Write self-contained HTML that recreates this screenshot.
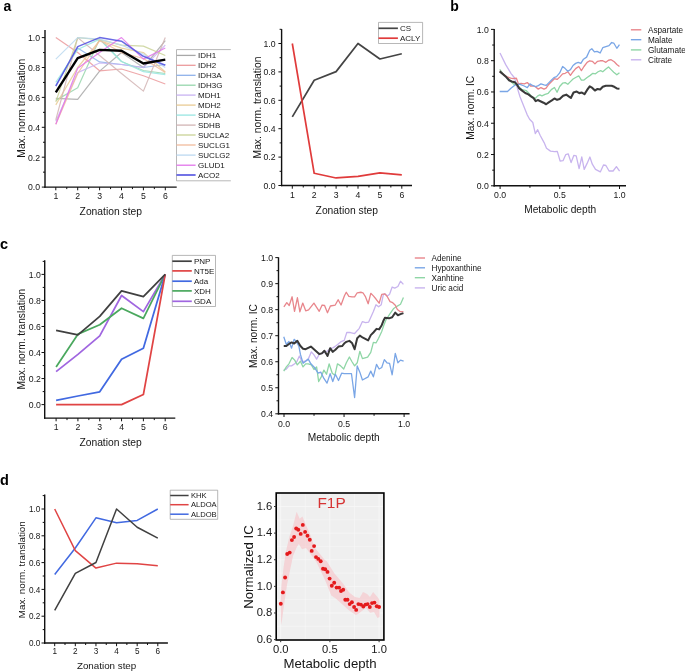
<!DOCTYPE html><html><head><meta charset="utf-8"><style>html,body{margin:0;padding:0;background:#fff;overflow:hidden}svg{display:block;filter:blur(0.35px)}</style></head><body>
<svg width="685" height="671" viewBox="0 0 685 671" font-family='"Liberation Sans", sans-serif'>
<rect width="685" height="671" fill="#fff"/>
<line x1="45" y1="30" x2="45" y2="187.8" stroke="#111" stroke-width="1.4"/>
<line x1="44.3" y1="187.1" x2="176.7" y2="187.1" stroke="#111" stroke-width="1.4"/>
<line x1="41.8" y1="187.1" x2="45" y2="187.1" stroke="#111" stroke-width="1.0"/>
<text x="0" y="0" font-size="8.7" text-anchor="end" fill="#161616" transform="translate(40 190.48) scale(1 1.08)">0.0</text>
<line x1="43" y1="172.15" x2="45" y2="172.15" stroke="#111" stroke-width="1.0"/>
<line x1="41.8" y1="157.2" x2="45" y2="157.2" stroke="#111" stroke-width="1.0"/>
<text x="0" y="0" font-size="8.7" text-anchor="end" fill="#161616" transform="translate(40 160.58) scale(1 1.08)">0.2</text>
<line x1="43" y1="142.25" x2="45" y2="142.25" stroke="#111" stroke-width="1.0"/>
<line x1="41.8" y1="127.3" x2="45" y2="127.3" stroke="#111" stroke-width="1.0"/>
<text x="0" y="0" font-size="8.7" text-anchor="end" fill="#161616" transform="translate(40 130.68) scale(1 1.08)">0.4</text>
<line x1="43" y1="112.35" x2="45" y2="112.35" stroke="#111" stroke-width="1.0"/>
<line x1="41.8" y1="97.4" x2="45" y2="97.4" stroke="#111" stroke-width="1.0"/>
<text x="0" y="0" font-size="8.7" text-anchor="end" fill="#161616" transform="translate(40 100.78) scale(1 1.08)">0.6</text>
<line x1="43" y1="82.45" x2="45" y2="82.45" stroke="#111" stroke-width="1.0"/>
<line x1="41.8" y1="67.5" x2="45" y2="67.5" stroke="#111" stroke-width="1.0"/>
<text x="0" y="0" font-size="8.7" text-anchor="end" fill="#161616" transform="translate(40 70.88) scale(1 1.08)">0.8</text>
<line x1="43" y1="52.55" x2="45" y2="52.55" stroke="#111" stroke-width="1.0"/>
<line x1="41.8" y1="37.6" x2="45" y2="37.6" stroke="#111" stroke-width="1.0"/>
<text x="0" y="0" font-size="8.7" text-anchor="end" fill="#161616" transform="translate(40 40.98) scale(1 1.08)">1.0</text>
<line x1="55.8" y1="187.1" x2="55.8" y2="190.3" stroke="#111" stroke-width="1.0"/>
<text x="0" y="0" font-size="8.7" text-anchor="middle" fill="#161616" transform="translate(55.8 198.6) scale(1 1.08)">1</text>
<line x1="77.7" y1="187.1" x2="77.7" y2="190.3" stroke="#111" stroke-width="1.0"/>
<text x="0" y="0" font-size="8.7" text-anchor="middle" fill="#161616" transform="translate(77.7 198.6) scale(1 1.08)">2</text>
<line x1="99.6" y1="187.1" x2="99.6" y2="190.3" stroke="#111" stroke-width="1.0"/>
<text x="0" y="0" font-size="8.7" text-anchor="middle" fill="#161616" transform="translate(99.6 198.6) scale(1 1.08)">3</text>
<line x1="121.5" y1="187.1" x2="121.5" y2="190.3" stroke="#111" stroke-width="1.0"/>
<text x="0" y="0" font-size="8.7" text-anchor="middle" fill="#161616" transform="translate(121.5 198.6) scale(1 1.08)">4</text>
<line x1="143.4" y1="187.1" x2="143.4" y2="190.3" stroke="#111" stroke-width="1.0"/>
<text x="0" y="0" font-size="8.7" text-anchor="middle" fill="#161616" transform="translate(143.4 198.6) scale(1 1.08)">5</text>
<line x1="165.3" y1="187.1" x2="165.3" y2="190.3" stroke="#111" stroke-width="1.0"/>
<text x="0" y="0" font-size="8.7" text-anchor="middle" fill="#161616" transform="translate(165.3 198.6) scale(1 1.08)">6</text>
<line x1="66.75" y1="187.1" x2="66.75" y2="189.1" stroke="#111" stroke-width="1.0"/>
<line x1="88.65" y1="187.1" x2="88.65" y2="189.1" stroke="#111" stroke-width="1.0"/>
<line x1="110.55" y1="187.1" x2="110.55" y2="189.1" stroke="#111" stroke-width="1.0"/>
<line x1="132.45" y1="187.1" x2="132.45" y2="189.1" stroke="#111" stroke-width="1.0"/>
<line x1="154.35" y1="187.1" x2="154.35" y2="189.1" stroke="#111" stroke-width="1.0"/>
<text x="3.6" y="11" font-size="14" text-anchor="start" fill="#000" font-weight="bold">a</text>
<text x="25.2" y="108.2" font-size="10.3" text-anchor="middle" fill="#161616" transform="rotate(-90 25.2 108.2)">Max. norm translation</text>
<text x="110.8" y="214.6" font-size="10.3" text-anchor="middle" fill="#161616">Zonation step</text>
<polyline points="55.8,98.3 77.7,99.34 99.6,71.09 121.5,52.55 143.4,67.5 165.3,40.59" fill="none" stroke="#a8a8a8" stroke-width="1.2" stroke-linejoin="round" stroke-opacity="0.85"/>
<polyline points="55.8,37.6 77.7,52.55 99.6,70.79 121.5,68.99 143.4,75.72 165.3,83.95" fill="none" stroke="#eb9a9c" stroke-width="1.2" stroke-linejoin="round" stroke-opacity="0.85"/>
<polyline points="55.8,85.44 77.7,48.06 99.6,61.97 121.5,64.51 143.4,67.5 165.3,64.51" fill="none" stroke="#8fb2ea" stroke-width="1.2" stroke-linejoin="round" stroke-opacity="0.85"/>
<polyline points="55.8,100.39 77.7,87.83 99.6,39.09 121.5,61.52 143.4,70.49 165.3,73.48" fill="none" stroke="#97d6ad" stroke-width="1.2" stroke-linejoin="round" stroke-opacity="0.85"/>
<polyline points="55.8,121.32 77.7,72.58 99.6,63.02 121.5,64.51 143.4,67.5 165.3,45.07" fill="none" stroke="#c9b3f2" stroke-width="1.2" stroke-linejoin="round" stroke-opacity="0.85"/>
<polyline points="55.8,104.87 77.7,67.5 99.6,40.59 121.5,48.06 143.4,52.55 165.3,71.98" fill="none" stroke="#e9cb94" stroke-width="1.2" stroke-linejoin="round" stroke-opacity="0.85"/>
<polyline points="55.8,82.45 77.7,49.56 99.6,39.09 121.5,61.52 143.4,71.69 165.3,74.53" fill="none" stroke="#98e6e2" stroke-width="1.2" stroke-linejoin="round" stroke-opacity="0.85"/>
<polyline points="55.8,119.82 77.7,37.6 99.6,55.54 121.5,73.48 143.4,91.12 165.3,37.6" fill="none" stroke="#d2b4b4" stroke-width="1.2" stroke-linejoin="round" stroke-opacity="0.85"/>
<polyline points="55.8,101.89 77.7,37.6 99.6,39.69 121.5,45.07 143.4,46.12 165.3,55.54" fill="none" stroke="#c9d296" stroke-width="1.2" stroke-linejoin="round" stroke-opacity="0.85"/>
<polyline points="55.8,124.31 77.7,73.48 99.6,40.59 121.5,52.55 143.4,58.53 165.3,72.58" fill="none" stroke="#f1bb9c" stroke-width="1.2" stroke-linejoin="round" stroke-opacity="0.85"/>
<polyline points="55.8,59.13 77.7,37.6 99.6,39.09 121.5,45.07 143.4,54.04 165.3,67.5" fill="none" stroke="#bcd9f0" stroke-width="1.2" stroke-linejoin="round" stroke-opacity="0.85"/>
<polyline points="55.8,124.31 77.7,68.25 99.6,52.55 121.5,37.6 143.4,59.13 165.3,48.06" fill="none" stroke="#e274ea" stroke-width="1.2" stroke-linejoin="round" stroke-opacity="0.85"/>
<polyline points="55.8,86.19 77.7,46.57 99.6,37.6 121.5,41.19 143.4,56.29 165.3,65.26" fill="none" stroke="#5050e0" stroke-width="1.5" stroke-linejoin="round" stroke-opacity="0.85"/>
<polyline points="55.8,92.32 77.7,58.08 99.6,49.86 121.5,50.76 143.4,63.46 165.3,59.58" fill="none" stroke="#000" stroke-width="2.4" stroke-linejoin="round"/>
<line x1="176.5" y1="49.6" x2="176.5" y2="180.8" stroke="#9a9a9a" stroke-width="0.7"/>
<line x1="176.5" y1="49.6" x2="230.8" y2="49.6" stroke="#9a9a9a" stroke-width="0.7"/>
<line x1="176.5" y1="180.8" x2="230.8" y2="180.8" stroke="#9a9a9a" stroke-width="0.7"/>
<line x1="176.5" y1="55.4" x2="195.6" y2="55.4" stroke="#a8a8a8" stroke-width="1.3"/>
<text x="198" y="58.3" font-size="8" text-anchor="start" fill="#161616">IDH1</text>
<line x1="176.5" y1="65.3" x2="195.6" y2="65.3" stroke="#eb9a9c" stroke-width="1.3"/>
<text x="198" y="68.2" font-size="8" text-anchor="start" fill="#161616">IDH2</text>
<line x1="176.5" y1="75.3" x2="195.6" y2="75.3" stroke="#8fb2ea" stroke-width="1.3"/>
<text x="198" y="78.2" font-size="8" text-anchor="start" fill="#161616">IDH3A</text>
<line x1="176.5" y1="85.2" x2="195.6" y2="85.2" stroke="#97d6ad" stroke-width="1.3"/>
<text x="198" y="88.1" font-size="8" text-anchor="start" fill="#161616">IDH3G</text>
<line x1="176.5" y1="95.1" x2="195.6" y2="95.1" stroke="#c9b3f2" stroke-width="1.3"/>
<text x="198" y="98" font-size="8" text-anchor="start" fill="#161616">MDH1</text>
<line x1="176.5" y1="105.1" x2="195.6" y2="105.1" stroke="#e9cb94" stroke-width="1.3"/>
<text x="198" y="108" font-size="8" text-anchor="start" fill="#161616">MDH2</text>
<line x1="176.5" y1="115.1" x2="195.6" y2="115.1" stroke="#98e6e2" stroke-width="1.3"/>
<text x="198" y="118" font-size="8" text-anchor="start" fill="#161616">SDHA</text>
<line x1="176.5" y1="125.1" x2="195.6" y2="125.1" stroke="#d2b4b4" stroke-width="1.3"/>
<text x="198" y="128" font-size="8" text-anchor="start" fill="#161616">SDHB</text>
<line x1="176.5" y1="135" x2="195.6" y2="135" stroke="#c9d296" stroke-width="1.3"/>
<text x="198" y="137.9" font-size="8" text-anchor="start" fill="#161616">SUCLA2</text>
<line x1="176.5" y1="145" x2="195.6" y2="145" stroke="#f1bb9c" stroke-width="1.3"/>
<text x="198" y="147.9" font-size="8" text-anchor="start" fill="#161616">SUCLG1</text>
<line x1="176.5" y1="155.1" x2="195.6" y2="155.1" stroke="#bcd9f0" stroke-width="1.3"/>
<text x="198" y="158" font-size="8" text-anchor="start" fill="#161616">SUCLG2</text>
<line x1="176.5" y1="165.2" x2="195.6" y2="165.2" stroke="#e274ea" stroke-width="1.3"/>
<text x="198" y="168.1" font-size="8" text-anchor="start" fill="#161616">GLUD1</text>
<line x1="176.5" y1="175" x2="195.6" y2="175" stroke="#5050e0" stroke-width="1.6"/>
<text x="198" y="177.9" font-size="8" text-anchor="start" fill="#161616">ACO2</text>
<line x1="281.6" y1="29.1" x2="281.6" y2="186.2" stroke="#111" stroke-width="1.4"/>
<line x1="280.9" y1="185.5" x2="412" y2="185.5" stroke="#111" stroke-width="1.4"/>
<line x1="278.4" y1="185.5" x2="281.6" y2="185.5" stroke="#111" stroke-width="1.0"/>
<text x="0" y="0" font-size="8.7" text-anchor="end" fill="#161616" transform="translate(275.6 188.88) scale(1 1.08)">0.0</text>
<line x1="279.6" y1="171.3" x2="281.6" y2="171.3" stroke="#111" stroke-width="1.0"/>
<line x1="278.4" y1="157.1" x2="281.6" y2="157.1" stroke="#111" stroke-width="1.0"/>
<text x="0" y="0" font-size="8.7" text-anchor="end" fill="#161616" transform="translate(275.6 160.48) scale(1 1.08)">0.2</text>
<line x1="279.6" y1="142.9" x2="281.6" y2="142.9" stroke="#111" stroke-width="1.0"/>
<line x1="278.4" y1="128.7" x2="281.6" y2="128.7" stroke="#111" stroke-width="1.0"/>
<text x="0" y="0" font-size="8.7" text-anchor="end" fill="#161616" transform="translate(275.6 132.08) scale(1 1.08)">0.4</text>
<line x1="279.6" y1="114.5" x2="281.6" y2="114.5" stroke="#111" stroke-width="1.0"/>
<line x1="278.4" y1="100.3" x2="281.6" y2="100.3" stroke="#111" stroke-width="1.0"/>
<text x="0" y="0" font-size="8.7" text-anchor="end" fill="#161616" transform="translate(275.6 103.68) scale(1 1.08)">0.6</text>
<line x1="279.6" y1="86.1" x2="281.6" y2="86.1" stroke="#111" stroke-width="1.0"/>
<line x1="278.4" y1="71.9" x2="281.6" y2="71.9" stroke="#111" stroke-width="1.0"/>
<text x="0" y="0" font-size="8.7" text-anchor="end" fill="#161616" transform="translate(275.6 75.28) scale(1 1.08)">0.8</text>
<line x1="279.6" y1="57.7" x2="281.6" y2="57.7" stroke="#111" stroke-width="1.0"/>
<line x1="278.4" y1="43.5" x2="281.6" y2="43.5" stroke="#111" stroke-width="1.0"/>
<text x="0" y="0" font-size="8.7" text-anchor="end" fill="#161616" transform="translate(275.6 46.88) scale(1 1.08)">1.0</text>
<line x1="279.6" y1="29.3" x2="281.6" y2="29.3" stroke="#111" stroke-width="1.0"/>
<line x1="292.3" y1="185.5" x2="292.3" y2="188.7" stroke="#111" stroke-width="1.0"/>
<text x="0" y="0" font-size="8.7" text-anchor="middle" fill="#161616" transform="translate(292.3 197.8) scale(1 1.08)">1</text>
<line x1="314.2" y1="185.5" x2="314.2" y2="188.7" stroke="#111" stroke-width="1.0"/>
<text x="0" y="0" font-size="8.7" text-anchor="middle" fill="#161616" transform="translate(314.2 197.8) scale(1 1.08)">2</text>
<line x1="336.1" y1="185.5" x2="336.1" y2="188.7" stroke="#111" stroke-width="1.0"/>
<text x="0" y="0" font-size="8.7" text-anchor="middle" fill="#161616" transform="translate(336.1 197.8) scale(1 1.08)">3</text>
<line x1="358" y1="185.5" x2="358" y2="188.7" stroke="#111" stroke-width="1.0"/>
<text x="0" y="0" font-size="8.7" text-anchor="middle" fill="#161616" transform="translate(358 197.8) scale(1 1.08)">4</text>
<line x1="379.9" y1="185.5" x2="379.9" y2="188.7" stroke="#111" stroke-width="1.0"/>
<text x="0" y="0" font-size="8.7" text-anchor="middle" fill="#161616" transform="translate(379.9 197.8) scale(1 1.08)">5</text>
<line x1="401.8" y1="185.5" x2="401.8" y2="188.7" stroke="#111" stroke-width="1.0"/>
<text x="0" y="0" font-size="8.7" text-anchor="middle" fill="#161616" transform="translate(401.8 197.8) scale(1 1.08)">6</text>
<line x1="303.25" y1="185.5" x2="303.25" y2="187.5" stroke="#111" stroke-width="1.0"/>
<line x1="325.15" y1="185.5" x2="325.15" y2="187.5" stroke="#111" stroke-width="1.0"/>
<line x1="347.05" y1="185.5" x2="347.05" y2="187.5" stroke="#111" stroke-width="1.0"/>
<line x1="368.95" y1="185.5" x2="368.95" y2="187.5" stroke="#111" stroke-width="1.0"/>
<line x1="390.85" y1="185.5" x2="390.85" y2="187.5" stroke="#111" stroke-width="1.0"/>
<text x="261.3" y="107.5" font-size="10.3" text-anchor="middle" fill="#161616" transform="rotate(-90 261.3 107.5)">Max. norm. translation</text>
<text x="346.8" y="214.1" font-size="10.3" text-anchor="middle" fill="#161616">Zonation step</text>
<polyline points="292.3,116.91 314.2,80.28 336.1,71.62 358,43.5 379.9,58.98 401.8,53.72" fill="none" stroke="#444" stroke-width="1.7" stroke-linejoin="round"/>
<polyline points="292.3,43.5 314.2,173.29 336.1,177.97 358,176.41 379.9,172.86 401.8,174.85" fill="none" stroke="#e03b3b" stroke-width="1.7" stroke-linejoin="round"/>
<line x1="378.5" y1="22.4" x2="378.5" y2="43.5" stroke="#9a9a9a" stroke-width="0.7"/>
<line x1="378.5" y1="22.4" x2="422.6" y2="22.4" stroke="#9a9a9a" stroke-width="0.7"/>
<line x1="378.5" y1="43.5" x2="422.6" y2="43.5" stroke="#9a9a9a" stroke-width="0.7"/>
<line x1="422.6" y1="22.4" x2="422.6" y2="43.5" stroke="#9a9a9a" stroke-width="0.7"/>
<line x1="378.5" y1="28.3" x2="397.9" y2="28.3" stroke="#444" stroke-width="1.7"/>
<text x="400" y="31.2" font-size="8" text-anchor="start" fill="#222">CS</text>
<line x1="378.5" y1="38.2" x2="397.9" y2="38.2" stroke="#e03b3b" stroke-width="1.7"/>
<text x="400" y="41.1" font-size="8" text-anchor="start" fill="#222">ACLY</text>
<line x1="494.2" y1="29.1" x2="494.2" y2="186.5" stroke="#111" stroke-width="1.4"/>
<line x1="493.5" y1="185.8" x2="626" y2="185.8" stroke="#111" stroke-width="1.4"/>
<line x1="491" y1="185.8" x2="494.2" y2="185.8" stroke="#111" stroke-width="1.0"/>
<text x="0" y="0" font-size="8.7" text-anchor="end" fill="#161616" transform="translate(488.8 189.18) scale(1 1.08)">0.0</text>
<line x1="492.2" y1="170.16" x2="494.2" y2="170.16" stroke="#111" stroke-width="1.0"/>
<line x1="491" y1="154.52" x2="494.2" y2="154.52" stroke="#111" stroke-width="1.0"/>
<text x="0" y="0" font-size="8.7" text-anchor="end" fill="#161616" transform="translate(488.8 157.9) scale(1 1.08)">0.2</text>
<line x1="492.2" y1="138.88" x2="494.2" y2="138.88" stroke="#111" stroke-width="1.0"/>
<line x1="491" y1="123.24" x2="494.2" y2="123.24" stroke="#111" stroke-width="1.0"/>
<text x="0" y="0" font-size="8.7" text-anchor="end" fill="#161616" transform="translate(488.8 126.62) scale(1 1.08)">0.4</text>
<line x1="492.2" y1="107.6" x2="494.2" y2="107.6" stroke="#111" stroke-width="1.0"/>
<line x1="491" y1="91.96" x2="494.2" y2="91.96" stroke="#111" stroke-width="1.0"/>
<text x="0" y="0" font-size="8.7" text-anchor="end" fill="#161616" transform="translate(488.8 95.34) scale(1 1.08)">0.6</text>
<line x1="492.2" y1="76.32" x2="494.2" y2="76.32" stroke="#111" stroke-width="1.0"/>
<line x1="491" y1="60.68" x2="494.2" y2="60.68" stroke="#111" stroke-width="1.0"/>
<text x="0" y="0" font-size="8.7" text-anchor="end" fill="#161616" transform="translate(488.8 64.06) scale(1 1.08)">0.8</text>
<line x1="492.2" y1="45.04" x2="494.2" y2="45.04" stroke="#111" stroke-width="1.0"/>
<line x1="491" y1="29.4" x2="494.2" y2="29.4" stroke="#111" stroke-width="1.0"/>
<text x="0" y="0" font-size="8.7" text-anchor="end" fill="#161616" transform="translate(488.8 32.78) scale(1 1.08)">1.0</text>
<line x1="500.1" y1="185.8" x2="500.1" y2="189" stroke="#111" stroke-width="1.0"/>
<text x="0" y="0" font-size="8.7" text-anchor="middle" fill="#161616" transform="translate(500.1 197.6) scale(1 1.08)">0.0</text>
<line x1="559.8" y1="185.8" x2="559.8" y2="189" stroke="#111" stroke-width="1.0"/>
<text x="0" y="0" font-size="8.7" text-anchor="middle" fill="#161616" transform="translate(559.8 197.6) scale(1 1.08)">0.5</text>
<line x1="619.5" y1="185.8" x2="619.5" y2="189" stroke="#111" stroke-width="1.0"/>
<text x="0" y="0" font-size="8.7" text-anchor="middle" fill="#161616" transform="translate(619.5 197.6) scale(1 1.08)">1.0</text>
<line x1="529.95" y1="185.8" x2="529.95" y2="187.8" stroke="#111" stroke-width="1.0"/>
<line x1="589.65" y1="185.8" x2="589.65" y2="187.8" stroke="#111" stroke-width="1.0"/>
<text x="450.3" y="10.6" font-size="14" text-anchor="start" fill="#000" font-weight="bold">b</text>
<text x="474" y="107.8" font-size="10.2" text-anchor="middle" fill="#161616" transform="rotate(-90 474 107.8)">Max. norm. IC</text>
<text x="560.2" y="213.3" font-size="10.2" text-anchor="middle" fill="#161616">Metabolic depth</text>
<polyline points="500,53 505.7,64.6 511.1,73.6 514.6,78 517.3,87.9 520,96.8 523.6,105.7 527.1,114.6 529.6,119.3 532.8,122.5 535.3,133.7 537.7,129.7 540.1,135.3 544.1,142.6 546.5,148.2 550.5,151.1 554.5,151.7 557.3,151.4 560.1,161 563,160.7 565.8,154.6 568.2,153.8 571.1,162.6 573.8,155.4 576.2,155.9 579.1,168.7 581.8,157 584.2,169.4 587.1,163.4 589.9,157 592.3,164.2 595.5,169.4 600.3,171.9 603.5,165 605.9,165.5 609.1,171 613.1,171 616.4,166.6 619.6,171.1" fill="none" stroke="#c8b4ee" stroke-width="1.3" stroke-linejoin="round"/>
<polyline points="499.69,69.3 503.35,74.2 506.48,76.91 510.65,81.09 513.78,84.22 516.91,84.95 519.51,87.55 522.12,89.64 526.3,90.68 528.38,92.77 530.99,95.9 533.6,97.47 535.16,98.51 537.77,95.9 539.86,94.86 541.94,95.9 545.07,94.34 548.2,93.29 551.33,89.64 554.46,87.55 557.07,92.25 559.68,86.51 562.61,83.2 565.22,82.68 567.82,84.25 570.43,81.64 573.04,79.03 575.65,77.47 578.78,75.9 581.39,80.07 583.99,80.07 587.12,77.47 590.25,75.38 592.86,73.29 595.47,73.81 598.08,71.73 600.68,70.68 602.77,71.73 605.9,69.12 608.51,67.03 611.12,69.64 613.72,72.25 616.85,74.86 619.46,72.77" fill="none" stroke="#8fd6a6" stroke-width="1.3" stroke-linejoin="round"/>
<polyline points="499.69,70.86 503.35,74.2 506.48,76.6 510.65,78.17 513.26,78.69 516.39,78.17 518.47,83.9 521.08,83.38 524.21,83.9 527.34,82.55 530.47,85.99 533.6,85.99 535.68,87.03 538.29,89.12 540.9,87.55 544.03,89.12 546.12,88.08 548.72,84.43 551.85,81.3 554.46,78.69 557.07,79.42 559.68,77.12 562.61,73.81 565.22,73.29 567.82,71.73 570.43,75.38 573.04,71.73 575.65,68.6 578.78,66.51 581.39,70.68 583.99,66.51 587.12,62.34 589.73,60.77 592.34,61.3 594.95,63.9 597.55,61.3 600.16,60.77 602.77,60.77 605.9,62.34 608.51,60.25 611.12,59.73 614.25,61.82 616.85,64.43 619.46,66.51" fill="none" stroke="#e8868c" stroke-width="1.3" stroke-linejoin="round"/>
<polyline points="499.69,91.52 507.52,91.52 510.65,88.6 513.78,85.99 516.39,84.43 520.04,84.43 524.21,85.99 527.34,87.55 529.95,83.9 532.55,85.47 535.68,86.51 537.77,85.99 540.9,83.9 544.03,84.95 546.12,85.47 548.2,83.38 551.33,80.25 553.94,77.64 556.55,76.6 559.68,72.95 562.61,66.51 565.22,68.6 567.82,71.21 570.43,69.64 573.04,65.47 575.65,63.38 578.26,62.34 580.86,63.38 583.47,59.21 586.6,57.12 589.73,50.34 591.82,48.78 594.43,51.91 597.03,51.39 600.16,52.95 602.77,47.73 605.9,46.69 609.03,45.65 611.64,42.52 613.72,43.04 616.85,48.26 619.46,44.6" fill="none" stroke="#7aa6e6" stroke-width="1.3" stroke-linejoin="round"/>
<polyline points="499.69,71.39 503.35,74.51 506.48,77.33 509.08,80.25 511.69,81.5 514.82,82.34 516.91,84.43 518.99,88.08 522.12,90.68 525.25,92.98 528.38,94.34 530.99,96.42 533.6,98.2 535.68,101.12 537.77,100.07 540.9,101.43 543.51,102.68 546.12,104.25 548.72,102.37 551.85,100.39 554.46,98.51 557.07,99.86 559.68,99.03 563.13,95.72 566.26,94.68 569.39,96.76 570.95,97.81 573.56,92.59 576.69,91.55 579.3,93.11 581.91,92.59 584.51,94.16 587.12,89.98 589.73,86.33 592.34,87.9 594.95,90.5 597.55,88.94 600.16,89.46 602.77,86.85 605.9,85.81 609.03,85.81 611.64,85.81 614.25,86.85 616.85,88.42 619.46,88.73" fill="none" stroke="#3a3a3a" stroke-width="2.1" stroke-linejoin="round"/>
<line x1="630.9" y1="29.8" x2="641.3" y2="29.8" stroke="#e8868c" stroke-width="1.4"/>
<text x="648" y="32.7" font-size="8.2" text-anchor="start" fill="#161616">Aspartate</text>
<line x1="630.9" y1="39.7" x2="641.3" y2="39.7" stroke="#7aa6e6" stroke-width="1.4"/>
<text x="648" y="42.6" font-size="8.2" text-anchor="start" fill="#161616">Malate</text>
<line x1="630.9" y1="49.9" x2="641.3" y2="49.9" stroke="#8fd6a6" stroke-width="1.4"/>
<text x="648" y="52.8" font-size="8.2" text-anchor="start" fill="#161616">Glutamate</text>
<line x1="630.9" y1="59.8" x2="641.3" y2="59.8" stroke="#c8b4ee" stroke-width="1.4"/>
<text x="648" y="62.7" font-size="8.2" text-anchor="start" fill="#161616">Citrate</text>
<line x1="44.7" y1="260.3" x2="44.7" y2="418.8" stroke="#111" stroke-width="1.4"/>
<line x1="44" y1="418.1" x2="175.3" y2="418.1" stroke="#111" stroke-width="1.4"/>
<line x1="41.5" y1="404.6" x2="44.7" y2="404.6" stroke="#111" stroke-width="1.0"/>
<text x="0" y="0" font-size="8.7" text-anchor="end" fill="#161616" transform="translate(40.9 407.98) scale(1 1.08)">0.0</text>
<line x1="42.7" y1="391.58" x2="44.7" y2="391.58" stroke="#111" stroke-width="1.0"/>
<line x1="41.5" y1="378.56" x2="44.7" y2="378.56" stroke="#111" stroke-width="1.0"/>
<text x="0" y="0" font-size="8.7" text-anchor="end" fill="#161616" transform="translate(40.9 381.94) scale(1 1.08)">0.2</text>
<line x1="42.7" y1="365.54" x2="44.7" y2="365.54" stroke="#111" stroke-width="1.0"/>
<line x1="41.5" y1="352.52" x2="44.7" y2="352.52" stroke="#111" stroke-width="1.0"/>
<text x="0" y="0" font-size="8.7" text-anchor="end" fill="#161616" transform="translate(40.9 355.9) scale(1 1.08)">0.4</text>
<line x1="42.7" y1="339.5" x2="44.7" y2="339.5" stroke="#111" stroke-width="1.0"/>
<line x1="41.5" y1="326.48" x2="44.7" y2="326.48" stroke="#111" stroke-width="1.0"/>
<text x="0" y="0" font-size="8.7" text-anchor="end" fill="#161616" transform="translate(40.9 329.86) scale(1 1.08)">0.6</text>
<line x1="42.7" y1="313.46" x2="44.7" y2="313.46" stroke="#111" stroke-width="1.0"/>
<line x1="41.5" y1="300.44" x2="44.7" y2="300.44" stroke="#111" stroke-width="1.0"/>
<text x="0" y="0" font-size="8.7" text-anchor="end" fill="#161616" transform="translate(40.9 303.82) scale(1 1.08)">0.8</text>
<line x1="42.7" y1="287.42" x2="44.7" y2="287.42" stroke="#111" stroke-width="1.0"/>
<line x1="41.5" y1="274.4" x2="44.7" y2="274.4" stroke="#111" stroke-width="1.0"/>
<text x="0" y="0" font-size="8.7" text-anchor="end" fill="#161616" transform="translate(40.9 277.78) scale(1 1.08)">1.0</text>
<line x1="42.7" y1="261.38" x2="44.7" y2="261.38" stroke="#111" stroke-width="1.0"/>
<line x1="56.1" y1="418.1" x2="56.1" y2="421.3" stroke="#111" stroke-width="1.0"/>
<text x="0" y="0" font-size="8.7" text-anchor="middle" fill="#161616" transform="translate(56.1 429.8) scale(1 1.08)">1</text>
<line x1="77.92" y1="418.1" x2="77.92" y2="421.3" stroke="#111" stroke-width="1.0"/>
<text x="0" y="0" font-size="8.7" text-anchor="middle" fill="#161616" transform="translate(77.92 429.8) scale(1 1.08)">2</text>
<line x1="99.74" y1="418.1" x2="99.74" y2="421.3" stroke="#111" stroke-width="1.0"/>
<text x="0" y="0" font-size="8.7" text-anchor="middle" fill="#161616" transform="translate(99.74 429.8) scale(1 1.08)">3</text>
<line x1="121.56" y1="418.1" x2="121.56" y2="421.3" stroke="#111" stroke-width="1.0"/>
<text x="0" y="0" font-size="8.7" text-anchor="middle" fill="#161616" transform="translate(121.56 429.8) scale(1 1.08)">4</text>
<line x1="143.38" y1="418.1" x2="143.38" y2="421.3" stroke="#111" stroke-width="1.0"/>
<text x="0" y="0" font-size="8.7" text-anchor="middle" fill="#161616" transform="translate(143.38 429.8) scale(1 1.08)">5</text>
<line x1="165.2" y1="418.1" x2="165.2" y2="421.3" stroke="#111" stroke-width="1.0"/>
<text x="0" y="0" font-size="8.7" text-anchor="middle" fill="#161616" transform="translate(165.2 429.8) scale(1 1.08)">6</text>
<line x1="67.01" y1="418.1" x2="67.01" y2="420.1" stroke="#111" stroke-width="1.0"/>
<line x1="88.83" y1="418.1" x2="88.83" y2="420.1" stroke="#111" stroke-width="1.0"/>
<line x1="110.65" y1="418.1" x2="110.65" y2="420.1" stroke="#111" stroke-width="1.0"/>
<line x1="132.47" y1="418.1" x2="132.47" y2="420.1" stroke="#111" stroke-width="1.0"/>
<line x1="154.29" y1="418.1" x2="154.29" y2="420.1" stroke="#111" stroke-width="1.0"/>
<text x="0" y="248.6" font-size="14.5" text-anchor="start" fill="#000" font-weight="bold">c</text>
<text x="25" y="339.1" font-size="10.2" text-anchor="middle" fill="#161616" transform="rotate(-90 25 339.1)">Max. norm. translation</text>
<text x="110.6" y="445.6" font-size="10.3" text-anchor="middle" fill="#161616">Zonation step</text>
<polyline points="56.1,371.66 77.92,354.34 99.74,335.85 121.56,295.49 143.38,311.64 165.2,274.4" fill="none" stroke="#a066e0" stroke-width="1.75" stroke-linejoin="round"/>
<polyline points="56.1,366.97 77.92,334.16 99.74,324.79 121.56,308.25 143.38,318.41 165.2,274.4" fill="none" stroke="#4aa85e" stroke-width="1.75" stroke-linejoin="round"/>
<polyline points="56.1,400.3 77.92,396.01 99.74,391.84 121.56,359.29 143.38,348.22 165.2,274.4" fill="none" stroke="#4169e1" stroke-width="1.75" stroke-linejoin="round"/>
<polyline points="56.1,404.6 77.92,404.6 99.74,404.6 121.56,404.6 143.38,394.57 165.2,274.4" fill="none" stroke="#e04444" stroke-width="1.75" stroke-linejoin="round"/>
<polyline points="56.1,330.39 77.92,334.81 99.74,316.32 121.56,290.81 143.38,296.53 165.2,274.4" fill="none" stroke="#404040" stroke-width="1.75" stroke-linejoin="round"/>
<line x1="172.3" y1="255.4" x2="172.3" y2="306.5" stroke="#9a9a9a" stroke-width="0.7"/>
<line x1="172.3" y1="255.4" x2="215.5" y2="255.4" stroke="#9a9a9a" stroke-width="0.7"/>
<line x1="172.3" y1="306.5" x2="215.5" y2="306.5" stroke="#9a9a9a" stroke-width="0.7"/>
<line x1="215.5" y1="255.4" x2="215.5" y2="306.5" stroke="#9a9a9a" stroke-width="0.7"/>
<line x1="172.3" y1="261.2" x2="191.8" y2="261.2" stroke="#404040" stroke-width="1.7"/>
<text x="193.9" y="264.1" font-size="8.0" text-anchor="start" fill="#161616">PNP</text>
<line x1="172.3" y1="270.9" x2="191.8" y2="270.9" stroke="#e04444" stroke-width="1.7"/>
<text x="193.9" y="273.8" font-size="8.0" text-anchor="start" fill="#161616">NT5E</text>
<line x1="172.3" y1="281.2" x2="191.8" y2="281.2" stroke="#4169e1" stroke-width="1.7"/>
<text x="193.9" y="284.1" font-size="8.0" text-anchor="start" fill="#161616">Ada</text>
<line x1="172.3" y1="290.9" x2="191.8" y2="290.9" stroke="#4aa85e" stroke-width="1.7"/>
<text x="193.9" y="293.8" font-size="8.0" text-anchor="start" fill="#161616">XDH</text>
<line x1="172.3" y1="301.3" x2="191.8" y2="301.3" stroke="#a066e0" stroke-width="1.7"/>
<text x="193.9" y="304.2" font-size="8.0" text-anchor="start" fill="#161616">GDA</text>
<line x1="278.5" y1="257.32" x2="278.5" y2="414.5" stroke="#111" stroke-width="1.4"/>
<line x1="277.8" y1="413.8" x2="409.6" y2="413.8" stroke="#111" stroke-width="1.4"/>
<line x1="275.3" y1="413.8" x2="278.5" y2="413.8" stroke="#111" stroke-width="1.0"/>
<text x="0" y="0" font-size="8.7" text-anchor="end" fill="#161616" transform="translate(273.2 417.18) scale(1 1.08)">0.4</text>
<line x1="276.5" y1="400.79" x2="278.5" y2="400.79" stroke="#111" stroke-width="1.0"/>
<line x1="275.3" y1="387.77" x2="278.5" y2="387.77" stroke="#111" stroke-width="1.0"/>
<text x="0" y="0" font-size="8.7" text-anchor="end" fill="#161616" transform="translate(273.2 391.15) scale(1 1.08)">0.5</text>
<line x1="276.5" y1="374.75" x2="278.5" y2="374.75" stroke="#111" stroke-width="1.0"/>
<line x1="275.3" y1="361.74" x2="278.5" y2="361.74" stroke="#111" stroke-width="1.0"/>
<text x="0" y="0" font-size="8.7" text-anchor="end" fill="#161616" transform="translate(273.2 365.12) scale(1 1.08)">0.6</text>
<line x1="276.5" y1="348.73" x2="278.5" y2="348.73" stroke="#111" stroke-width="1.0"/>
<line x1="275.3" y1="335.71" x2="278.5" y2="335.71" stroke="#111" stroke-width="1.0"/>
<text x="0" y="0" font-size="8.7" text-anchor="end" fill="#161616" transform="translate(273.2 339.09) scale(1 1.08)">0.7</text>
<line x1="276.5" y1="322.69" x2="278.5" y2="322.69" stroke="#111" stroke-width="1.0"/>
<line x1="275.3" y1="309.68" x2="278.5" y2="309.68" stroke="#111" stroke-width="1.0"/>
<text x="0" y="0" font-size="8.7" text-anchor="end" fill="#161616" transform="translate(273.2 313.06) scale(1 1.08)">0.8</text>
<line x1="276.5" y1="296.66" x2="278.5" y2="296.66" stroke="#111" stroke-width="1.0"/>
<line x1="275.3" y1="283.65" x2="278.5" y2="283.65" stroke="#111" stroke-width="1.0"/>
<text x="0" y="0" font-size="8.7" text-anchor="end" fill="#161616" transform="translate(273.2 287.03) scale(1 1.08)">0.9</text>
<line x1="276.5" y1="270.63" x2="278.5" y2="270.63" stroke="#111" stroke-width="1.0"/>
<line x1="275.3" y1="257.62" x2="278.5" y2="257.62" stroke="#111" stroke-width="1.0"/>
<text x="0" y="0" font-size="8.7" text-anchor="end" fill="#161616" transform="translate(273.2 261) scale(1 1.08)">1.0</text>
<line x1="284" y1="413.8" x2="284" y2="417" stroke="#111" stroke-width="1.0"/>
<text x="0" y="0" font-size="8.7" text-anchor="middle" fill="#161616" transform="translate(284 426.5) scale(1 1.08)">0.0</text>
<line x1="344.05" y1="413.8" x2="344.05" y2="417" stroke="#111" stroke-width="1.0"/>
<text x="0" y="0" font-size="8.7" text-anchor="middle" fill="#161616" transform="translate(344.05 426.5) scale(1 1.08)">0.5</text>
<line x1="404.1" y1="413.8" x2="404.1" y2="417" stroke="#111" stroke-width="1.0"/>
<text x="0" y="0" font-size="8.7" text-anchor="middle" fill="#161616" transform="translate(404.1 426.5) scale(1 1.08)">1.0</text>
<line x1="314.02" y1="413.8" x2="314.02" y2="415.8" stroke="#111" stroke-width="1.0"/>
<line x1="374.07" y1="413.8" x2="374.07" y2="415.8" stroke="#111" stroke-width="1.0"/>
<text x="257.4" y="336" font-size="10.2" text-anchor="middle" fill="#161616" transform="rotate(-90 257.4 336)">Max. norm. IC</text>
<text x="343.7" y="441.2" font-size="10.2" text-anchor="middle" fill="#161616">Metabolic depth</text>
<polyline points="283.74,370.07 286.35,369.03 288.95,365.9 291.56,365.9 294.69,363.81 296.78,361.73 299.39,355.99 301.99,361.73 305.12,361.21 308.25,359.12 311.38,351.82 313.99,354.95 316.6,359.12 319.21,354.43 327.03,351.3 330.16,348.69 333.29,347.64 336.42,345.56 340.59,341.91 344.24,340.34 346.78,332.52 350.43,332.52 354.6,333.56 359.3,328.35 362.43,321.56 365.56,322.61 368.69,322.09 373.38,311.55 375.99,304.77 378.6,306.85 381.21,304.77 383.29,294.86 384.86,293.81 387.47,295.9 389.55,294.34 392.16,287.03 394.77,288.08 397.9,286.51 400.5,281.3 403.43,284.43" fill="none" stroke="#c8b4ee" stroke-width="1.3" stroke-linejoin="round"/>
<polyline points="283.74,371.12 286.35,366.94 288.95,363.81 292.08,357.55 294.69,360.16 297.3,364.86 300.43,361.21 303.04,366.94 305.64,363.81 308.25,363.81 311.38,364.86 313.99,369.55 316.6,366.94 318.68,381.55 321.29,376.85 323.9,370.07 326.51,374.25 329.12,363.81 332.25,373.2 334.85,375.29 337.46,363.81 340.59,365.9 343.72,369.03 346.33,362.77 349.39,357.03 352,361.73 354.6,365.9 357.21,362.77 359.82,351.3 362.43,358.6 367.64,357.03 370.77,352.34 373.38,342.43 375.99,342.95 378.6,338.26 381.73,331.48 383.81,325.22 385.9,320 390.07,313.63 393.72,308.42 396.85,306.33 400.5,304.25 403.43,297.47" fill="none" stroke="#8fd6a6" stroke-width="1.3" stroke-linejoin="round"/>
<polyline points="283.74,336.69 286.35,344.51 288.95,341.39 291.56,348.17 294.17,339.3 296.26,341.39 298.86,346.08 300.43,354.43 303.04,363.29 305.64,361.21 308.25,359.12 310.86,363.81 313.99,366.94 318.16,373.2 320.77,372.16 323.9,378.42 327.03,383.11 330.16,373.72 332.77,381.55 335.38,374.25 338.5,380.5 341.63,373.2 344.24,373.72 351.48,373.72 354.6,397.5 357.21,365.9 359.82,372.16 362.43,379.98 368.17,376.85 370.77,371.12 373.38,376.85 376.51,364.34 379.12,369.03 381.73,367.47 384.34,359.64 386.94,362.77 389.55,363.29 392.16,374.77 395.29,353.38 397.9,362.77 400.5,360.16 403.63,361.21" fill="none" stroke="#7aa6e6" stroke-width="1.3" stroke-linejoin="round"/>
<polyline points="283.88,306.96 286.78,302.6 289.21,305.5 292.11,296.78 294.53,311.32 297.44,297.75 299.86,311.8 302.77,303.08 305.68,310.83 308.59,309.86 313.91,303.08 319.24,311.32 322.15,305.02 324.57,305.5 327.48,312.77 330.39,305.99 335.23,305.02 338.14,299.69 341.05,305.02 344.44,295.81 346.26,292.25 348.87,296.42 352,296.94 354.6,296.94 357.21,292.77 360.86,292.25 362.95,292.77 365.56,296.94 368.17,303.72 370.77,293.29 373.38,295.9 375.99,299.03 379.12,303.2 381.73,294.34 384.86,293.81 387.47,296.94 390.07,301.64 392.68,302.68 395.29,305.29 397.38,309.46 399.98,311.55 403.43,311.55" fill="none" stroke="#e8868c" stroke-width="1.3" stroke-linejoin="round"/>
<polyline points="283.74,346.08 286.35,346.08 288.95,343.99 291.56,342.43 294.17,343.47 297.3,340.86 300.43,346.08 303.04,348.69 305.64,349.21 310.86,346.6 319.21,353.9 321.81,353.38 324.42,350.77 327.55,355.99 330.16,348.17 332.77,351.82 335.38,349.73 338.5,346.6 342.16,346.08 344.76,342.95 346.26,341.91 349.39,340.86 352,342.95 354.6,349.21 357.21,338.26 359.82,335.65 362.95,337.73 368.17,340.34 370.77,335.13 373.38,332.52 376.51,328.87 379.12,329.39 381.73,325.22 383.29,321.04 383.81,320 384.86,317.81 389.03,318.33 392.16,317.29 395.29,312.59 397.9,315.2 400.5,314.16 403.43,313.11" fill="none" stroke="#383838" stroke-width="2.0" stroke-linejoin="round"/>
<line x1="414.8" y1="258" x2="425" y2="258" stroke="#e8868c" stroke-width="1.4"/>
<text x="431.5" y="260.9" font-size="8.2" text-anchor="start" fill="#161616">Adenine</text>
<line x1="414.8" y1="267.8" x2="425" y2="267.8" stroke="#7aa6e6" stroke-width="1.4"/>
<text x="431.5" y="270.7" font-size="8.2" text-anchor="start" fill="#161616">Hypoxanthine</text>
<line x1="414.8" y1="277.7" x2="425" y2="277.7" stroke="#8fd6a6" stroke-width="1.4"/>
<text x="431.5" y="280.6" font-size="8.2" text-anchor="start" fill="#161616">Xanhtine</text>
<line x1="414.8" y1="287.9" x2="425" y2="287.9" stroke="#c8b4ee" stroke-width="1.4"/>
<text x="431.5" y="290.8" font-size="8.2" text-anchor="start" fill="#161616">Uric acid</text>
<line x1="44.7" y1="494.6" x2="44.7" y2="643.7" stroke="#111" stroke-width="1.4"/>
<line x1="44" y1="643" x2="167.9" y2="643" stroke="#111" stroke-width="1.4"/>
<line x1="41.5" y1="643" x2="44.7" y2="643" stroke="#111" stroke-width="1.0"/>
<text x="0" y="0" font-size="8.2" text-anchor="end" fill="#161616" transform="translate(40.3 646.19) scale(1 1.08)">0.0</text>
<line x1="42.7" y1="629.6" x2="44.7" y2="629.6" stroke="#111" stroke-width="1.0"/>
<line x1="41.5" y1="616.2" x2="44.7" y2="616.2" stroke="#111" stroke-width="1.0"/>
<text x="0" y="0" font-size="8.2" text-anchor="end" fill="#161616" transform="translate(40.3 619.39) scale(1 1.08)">0.2</text>
<line x1="42.7" y1="602.8" x2="44.7" y2="602.8" stroke="#111" stroke-width="1.0"/>
<line x1="41.5" y1="589.4" x2="44.7" y2="589.4" stroke="#111" stroke-width="1.0"/>
<text x="0" y="0" font-size="8.2" text-anchor="end" fill="#161616" transform="translate(40.3 592.59) scale(1 1.08)">0.4</text>
<line x1="42.7" y1="576" x2="44.7" y2="576" stroke="#111" stroke-width="1.0"/>
<line x1="41.5" y1="562.6" x2="44.7" y2="562.6" stroke="#111" stroke-width="1.0"/>
<text x="0" y="0" font-size="8.2" text-anchor="end" fill="#161616" transform="translate(40.3 565.79) scale(1 1.08)">0.6</text>
<line x1="42.7" y1="549.2" x2="44.7" y2="549.2" stroke="#111" stroke-width="1.0"/>
<line x1="41.5" y1="535.8" x2="44.7" y2="535.8" stroke="#111" stroke-width="1.0"/>
<text x="0" y="0" font-size="8.2" text-anchor="end" fill="#161616" transform="translate(40.3 538.99) scale(1 1.08)">0.8</text>
<line x1="42.7" y1="522.4" x2="44.7" y2="522.4" stroke="#111" stroke-width="1.0"/>
<line x1="41.5" y1="509" x2="44.7" y2="509" stroke="#111" stroke-width="1.0"/>
<text x="0" y="0" font-size="8.2" text-anchor="end" fill="#161616" transform="translate(40.3 512.19) scale(1 1.08)">1.0</text>
<line x1="42.7" y1="495.6" x2="44.7" y2="495.6" stroke="#111" stroke-width="1.0"/>
<line x1="54.7" y1="643" x2="54.7" y2="646.2" stroke="#111" stroke-width="1.0"/>
<text x="0" y="0" font-size="8.2" text-anchor="middle" fill="#161616" transform="translate(54.7 654) scale(1 1.08)">1</text>
<line x1="75.32" y1="643" x2="75.32" y2="646.2" stroke="#111" stroke-width="1.0"/>
<text x="0" y="0" font-size="8.2" text-anchor="middle" fill="#161616" transform="translate(75.32 654) scale(1 1.08)">2</text>
<line x1="95.94" y1="643" x2="95.94" y2="646.2" stroke="#111" stroke-width="1.0"/>
<text x="0" y="0" font-size="8.2" text-anchor="middle" fill="#161616" transform="translate(95.94 654) scale(1 1.08)">3</text>
<line x1="116.56" y1="643" x2="116.56" y2="646.2" stroke="#111" stroke-width="1.0"/>
<text x="0" y="0" font-size="8.2" text-anchor="middle" fill="#161616" transform="translate(116.56 654) scale(1 1.08)">4</text>
<line x1="137.18" y1="643" x2="137.18" y2="646.2" stroke="#111" stroke-width="1.0"/>
<text x="0" y="0" font-size="8.2" text-anchor="middle" fill="#161616" transform="translate(137.18 654) scale(1 1.08)">5</text>
<line x1="157.8" y1="643" x2="157.8" y2="646.2" stroke="#111" stroke-width="1.0"/>
<text x="0" y="0" font-size="8.2" text-anchor="middle" fill="#161616" transform="translate(157.8 654) scale(1 1.08)">6</text>
<line x1="65.01" y1="643" x2="65.01" y2="645" stroke="#111" stroke-width="1.0"/>
<line x1="85.63" y1="643" x2="85.63" y2="645" stroke="#111" stroke-width="1.0"/>
<line x1="106.25" y1="643" x2="106.25" y2="645" stroke="#111" stroke-width="1.0"/>
<line x1="126.87" y1="643" x2="126.87" y2="645" stroke="#111" stroke-width="1.0"/>
<line x1="147.49" y1="643" x2="147.49" y2="645" stroke="#111" stroke-width="1.0"/>
<text x="0" y="484.5" font-size="14.5" text-anchor="start" fill="#000" font-weight="bold">d</text>
<text x="25.2" y="569.7" font-size="9.8" text-anchor="middle" fill="#161616" transform="rotate(-90 25.2 569.7)">Max. norm. translation</text>
<text x="106.6" y="668.6" font-size="9.8" text-anchor="middle" fill="#161616">Zonation step</text>
<polyline points="54.7,574.53 75.32,547.99 95.94,517.84 116.56,522.8 137.18,520.39 157.8,509" fill="none" stroke="#4169e1" stroke-width="1.5" stroke-linejoin="round"/>
<polyline points="54.7,509 75.32,550.67 95.94,568.09 116.56,563.14 137.18,563.81 157.8,565.82" fill="none" stroke="#e04444" stroke-width="1.5" stroke-linejoin="round"/>
<polyline points="54.7,610.44 75.32,573.45 95.94,562.47 116.56,509 137.18,527.22 157.8,538.21" fill="none" stroke="#404040" stroke-width="1.5" stroke-linejoin="round"/>
<line x1="170.2" y1="490.2" x2="170.2" y2="519.3" stroke="#9a9a9a" stroke-width="0.7"/>
<line x1="170.2" y1="490.2" x2="217.7" y2="490.2" stroke="#9a9a9a" stroke-width="0.7"/>
<line x1="170.2" y1="519.3" x2="217.7" y2="519.3" stroke="#9a9a9a" stroke-width="0.7"/>
<line x1="217.7" y1="490.2" x2="217.7" y2="519.3" stroke="#9a9a9a" stroke-width="0.7"/>
<line x1="170.2" y1="495.5" x2="188.6" y2="495.5" stroke="#404040" stroke-width="1.5"/>
<text x="190.9" y="498.2" font-size="7.6" text-anchor="start" fill="#161616">KHK</text>
<line x1="170.2" y1="504.7" x2="188.6" y2="504.7" stroke="#e04444" stroke-width="1.5"/>
<text x="190.9" y="507.4" font-size="7.6" text-anchor="start" fill="#161616">ALDOA</text>
<line x1="170.2" y1="514.2" x2="188.6" y2="514.2" stroke="#4169e1" stroke-width="1.5"/>
<text x="190.9" y="516.9" font-size="7.6" text-anchor="start" fill="#161616">ALDOB</text>
<rect x="276.2" y="493.0" width="107.70" height="147.00" fill="#efefef"/>
<line x1="276.2" y1="639.6" x2="383.9" y2="639.6" stroke="#f8f8f8" stroke-width="0.8"/>
<line x1="276.2" y1="626.29" x2="383.9" y2="626.29" stroke="#f8f8f8" stroke-width="0.5"/>
<line x1="276.2" y1="612.98" x2="383.9" y2="612.98" stroke="#f8f8f8" stroke-width="0.8"/>
<line x1="276.2" y1="599.67" x2="383.9" y2="599.67" stroke="#f8f8f8" stroke-width="0.5"/>
<line x1="276.2" y1="586.36" x2="383.9" y2="586.36" stroke="#f8f8f8" stroke-width="0.8"/>
<line x1="276.2" y1="573.05" x2="383.9" y2="573.05" stroke="#f8f8f8" stroke-width="0.5"/>
<line x1="276.2" y1="559.74" x2="383.9" y2="559.74" stroke="#f8f8f8" stroke-width="0.8"/>
<line x1="276.2" y1="546.43" x2="383.9" y2="546.43" stroke="#f8f8f8" stroke-width="0.5"/>
<line x1="276.2" y1="533.12" x2="383.9" y2="533.12" stroke="#f8f8f8" stroke-width="0.8"/>
<line x1="276.2" y1="519.81" x2="383.9" y2="519.81" stroke="#f8f8f8" stroke-width="0.5"/>
<line x1="276.2" y1="506.5" x2="383.9" y2="506.5" stroke="#f8f8f8" stroke-width="0.8"/>
<line x1="280.7" y1="493" x2="280.7" y2="640" stroke="#f8f8f8" stroke-width="0.8"/>
<line x1="305.3" y1="493" x2="305.3" y2="640" stroke="#f8f8f8" stroke-width="0.5"/>
<line x1="329.9" y1="493" x2="329.9" y2="640" stroke="#f8f8f8" stroke-width="0.8"/>
<line x1="354.5" y1="493" x2="354.5" y2="640" stroke="#f8f8f8" stroke-width="0.5"/>
<line x1="379.1" y1="493" x2="379.1" y2="640" stroke="#f8f8f8" stroke-width="0.8"/>
<polygon points="280.6,600.0 281.5,585.0 283.5,568.0 285.8,552.0 289.4,536.7 293.0,526.0 296.6,511.7 299.7,518.8 302.4,516.6 306.4,526.0 310.0,534.0 314.9,548.0 320.0,554.0 324.6,559.8 326.8,561.3 334.3,573.2 343.2,583.7 349.2,592.6 355.0,597.0 359.6,597.9 363.0,592.0 367.1,594.1 370.0,597.0 373.1,592.0 377.5,597.0 379.5,600.0 379.5,617.0 377.5,618.0 374.0,612.0 370.1,612.8 366.0,608.0 362.6,610.5 358.0,614.0 355.9,615.0 349.2,610.5 343.0,605.0 335.8,598.6 331.3,595.6 325.0,580.0 316.4,562.0 306.0,548.0 302.0,549.2 298.8,543.9 296.6,547.5 293.0,556.0 290.1,570.1 287.0,585.0 284.0,605.0 282.0,620.0 281.0,625.0" fill="#f7c3c8" fill-opacity="0.62"/>
<circle cx="280.8" cy="603.7" r="1.95" fill="#e41a1c"/>
<circle cx="282.9" cy="592.4" r="1.95" fill="#e41a1c"/>
<circle cx="285.1" cy="577.5" r="1.95" fill="#e41a1c"/>
<circle cx="287.2" cy="554.0" r="1.95" fill="#e41a1c"/>
<circle cx="289.7" cy="552.6" r="1.95" fill="#e41a1c"/>
<circle cx="291.9" cy="540.1" r="1.95" fill="#e41a1c"/>
<circle cx="294.1" cy="537.0" r="1.95" fill="#e41a1c"/>
<circle cx="296.2" cy="528.5" r="1.95" fill="#e41a1c"/>
<circle cx="298.3" cy="529.7" r="1.95" fill="#e41a1c"/>
<circle cx="300.7" cy="533.9" r="1.95" fill="#e41a1c"/>
<circle cx="302.8" cy="524.9" r="1.95" fill="#e41a1c"/>
<circle cx="305.1" cy="531.9" r="1.95" fill="#e41a1c"/>
<circle cx="307.5" cy="535.7" r="1.95" fill="#e41a1c"/>
<circle cx="309.8" cy="539.7" r="1.95" fill="#e41a1c"/>
<circle cx="311.7" cy="550.9" r="1.95" fill="#e41a1c"/>
<circle cx="314.1" cy="546.1" r="1.95" fill="#e41a1c"/>
<circle cx="316.0" cy="557.1" r="1.95" fill="#e41a1c"/>
<circle cx="318.3" cy="558.9" r="1.95" fill="#e41a1c"/>
<circle cx="320.7" cy="561.3" r="1.95" fill="#e41a1c"/>
<circle cx="323.0" cy="568.7" r="1.95" fill="#e41a1c"/>
<circle cx="325.2" cy="569.2" r="1.95" fill="#e41a1c"/>
<circle cx="327.5" cy="571.9" r="1.95" fill="#e41a1c"/>
<circle cx="329.6" cy="578.6" r="1.95" fill="#e41a1c"/>
<circle cx="331.8" cy="585.7" r="1.95" fill="#e41a1c"/>
<circle cx="334.2" cy="582.8" r="1.95" fill="#e41a1c"/>
<circle cx="336.6" cy="587.6" r="1.95" fill="#e41a1c"/>
<circle cx="339.1" cy="587.6" r="1.95" fill="#e41a1c"/>
<circle cx="341.0" cy="591.0" r="1.95" fill="#e41a1c"/>
<circle cx="343.2" cy="589.8" r="1.95" fill="#e41a1c"/>
<circle cx="345.3" cy="599.7" r="1.95" fill="#e41a1c"/>
<circle cx="347.5" cy="599.7" r="1.95" fill="#e41a1c"/>
<circle cx="349.7" cy="604.1" r="1.95" fill="#e41a1c"/>
<circle cx="351.9" cy="602.2" r="1.95" fill="#e41a1c"/>
<circle cx="354.1" cy="607.0" r="1.95" fill="#e41a1c"/>
<circle cx="356.2" cy="609.9" r="1.95" fill="#e41a1c"/>
<circle cx="358.4" cy="604.1" r="1.95" fill="#e41a1c"/>
<circle cx="360.9" cy="604.6" r="1.95" fill="#e41a1c"/>
<circle cx="363.3" cy="606.5" r="1.95" fill="#e41a1c"/>
<circle cx="365.5" cy="604.6" r="1.95" fill="#e41a1c"/>
<circle cx="367.6" cy="604.1" r="1.95" fill="#e41a1c"/>
<circle cx="369.8" cy="607.0" r="1.95" fill="#e41a1c"/>
<circle cx="372.0" cy="603.1" r="1.95" fill="#e41a1c"/>
<circle cx="374.4" cy="602.6" r="1.95" fill="#e41a1c"/>
<circle cx="376.8" cy="606.3" r="1.95" fill="#e41a1c"/>
<circle cx="379.1" cy="607.0" r="1.95" fill="#e41a1c"/>
<rect x="276.2" y="493.0" width="107.70" height="147.00" fill="none" stroke="#000" stroke-width="1.6"/>
<line x1="274" y1="639.6" x2="276.2" y2="639.6" stroke="#333" stroke-width="1.0"/>
<text x="272.2" y="642.8" font-size="11.2" text-anchor="end" fill="#161616">0.6</text>
<line x1="274" y1="612.98" x2="276.2" y2="612.98" stroke="#333" stroke-width="1.0"/>
<text x="272.2" y="616.18" font-size="11.2" text-anchor="end" fill="#161616">0.8</text>
<line x1="274" y1="586.36" x2="276.2" y2="586.36" stroke="#333" stroke-width="1.0"/>
<text x="272.2" y="589.56" font-size="11.2" text-anchor="end" fill="#161616">1.0</text>
<line x1="274" y1="559.74" x2="276.2" y2="559.74" stroke="#333" stroke-width="1.0"/>
<text x="272.2" y="562.94" font-size="11.2" text-anchor="end" fill="#161616">1.2</text>
<line x1="274" y1="533.12" x2="276.2" y2="533.12" stroke="#333" stroke-width="1.0"/>
<text x="272.2" y="536.32" font-size="11.2" text-anchor="end" fill="#161616">1.4</text>
<line x1="274" y1="506.5" x2="276.2" y2="506.5" stroke="#333" stroke-width="1.0"/>
<text x="272.2" y="509.7" font-size="11.2" text-anchor="end" fill="#161616">1.6</text>
<line x1="280.7" y1="640" x2="280.7" y2="642.2" stroke="#333" stroke-width="1.0"/>
<text x="280.7" y="652.7" font-size="11.2" text-anchor="middle" fill="#161616">0.0</text>
<line x1="329.9" y1="640" x2="329.9" y2="642.2" stroke="#333" stroke-width="1.0"/>
<text x="329.9" y="652.7" font-size="11.2" text-anchor="middle" fill="#161616">0.5</text>
<line x1="379.1" y1="640" x2="379.1" y2="642.2" stroke="#333" stroke-width="1.0"/>
<text x="379.1" y="652.7" font-size="11.2" text-anchor="middle" fill="#161616">1.0</text>
<text x="252.5" y="567" font-size="13.2" text-anchor="middle" fill="#161616" transform="rotate(-90 252.5 567)">Normalized IC</text>
<text x="330" y="667.6" font-size="13.2" text-anchor="middle" fill="#161616">Metabolic depth</text>
<text x="331.6" y="507.8" font-size="15.4" text-anchor="middle" fill="#d63434">F1P</text>
</svg></body></html>
